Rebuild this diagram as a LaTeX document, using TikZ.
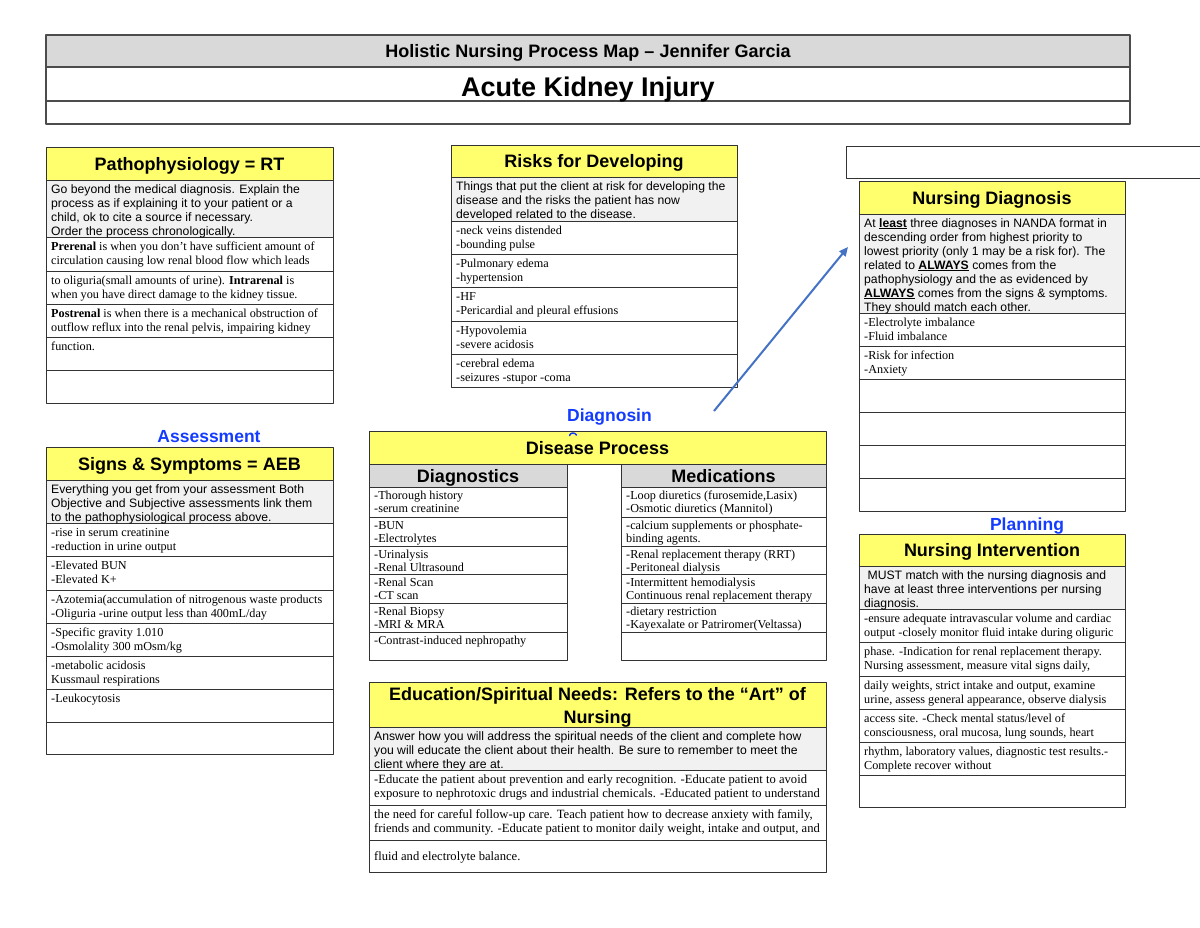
\documentclass[tikz,border=0pt]{standalone}
\usepackage{fontspec}
\setmainfont{Liberation Serif}
\setsansfont{Liberation Sans}
\usetikzlibrary{arrows.meta}
\definecolor{hdryellow}{RGB}{255,255,110}
\definecolor{notegray}{RGB}{241,241,241}
\definecolor{bargray}{RGB}{217,217,217}
\definecolor{labelblue}{RGB}{20,60,255}
\definecolor{arrowblue}{RGB}{68,114,196}
\begin{document}
\begin{tikzpicture}[x=1pt,y=-1pt,line join=round,
	cell/.style={draw=black!80,line width=1pt},
	hdr/.style={font=\sffamily\bfseries\fontsize{18}{23}\selectfont,inner sep=0pt,anchor=base},
	note/.style={font=\sffamily\fontsize{12.2}{14}\selectfont,align=left,anchor=north west,inner sep=0pt},
	entry/.style={font=\fontsize{12.2}{14}\selectfont,align=left,anchor=north west,inner sep=0pt},
	tightentry/.style={entry,font=\fontsize{12.2}{13}\selectfont},
	wideentry/.style={entry,font=\fontsize{12.6}{14}\selectfont},
	phase/.style={font=\sffamily\bfseries\fontsize{17.5}{20}\selectfont,text=labelblue,inner sep=0pt,anchor=base}]
	\useasboundingbox[fill=white] (0,0) rectangle (1200,927);
	
	% Khung tiêu đề
	\fill[bargray] (46,35) rectangle (1130,67);
	\draw[cell,line width=1.4pt,draw=black!70] (46,35) rectangle (1130,124);
	\draw[cell,line width=1.4pt,draw=black!70] (46,67) -- (1130,67);
	\draw[cell,line width=1.4pt,draw=black!70] (46,101) -- (1130,101);
	\node[hdr] (maptitle) at (588,57.5) {Holistic Nursing Process Map -- Jennifer Garcia};
	\node[hdr,font=\sffamily\bfseries\fontsize{27}{30}\selectfont] (disease) at (588,96.5) {Acute Kidney Injury};
	
	% Pathophysiology
	\fill[hdryellow] (46,147) rectangle (333,180);
	\fill[notegray] (46,180) rectangle (333,237);
	\draw[cell] (46,147) rectangle (333,403);
	\foreach \y in {180,237,271,304,337,370} \draw[cell] (46,\y) -- (333,\y);
	\node[hdr] (patho) at (189.5,170) {Pathophysiology = RT};
	\node[note] (pathonote) at (51,184) {Go beyond the medical diagnosis. Explain the\\process as if explaining it to your patient or a\\child, ok to cite a source if necessary.\\Order the process chronologically.};
	\node[entry] (prerenal) at (51,242) {\textbf{Prerenal} is when you don’t have sufficient amount of\\circulation causing low renal blood flow which leads};
	\node[entry] (intrarenal) at (51,276) {to oliguria(small amounts of urine). \textbf{Intrarenal} is\\when you have direct damage to the kidney tissue.};
	\node[entry] (postrenal) at (51,309) {\textbf{Postrenal} is when there is a mechanical obstruction of\\outflow reflux into the renal pelvis, impairing kidney};
	\node[entry] (function) at (51,342) {function.};
	
	% Risks for Developing
	\fill[hdryellow] (451,145) rectangle (737,177);
	\fill[notegray] (451,177) rectangle (737,221);
	\draw[cell] (451,145) rectangle (737,387);
	\foreach \y in {177,221,254,287,321,354} \draw[cell] (451,\y) -- (737,\y);
	\node[hdr] (risks) at (594,167.5) {Risks for Developing};
	\node[note] (risksnote) at (456,181) {Things that put the client at risk for developing the\\disease and the risks the patient has now\\developed related to the disease.};
	\node[entry] (neck) at (456,226) {-neck veins distended\\-bounding pulse};
	\node[entry] (pulmonary) at (456,259) {-Pulmonary edema\\-hypertension};
	\node[entry] (hf) at (456,292) {-HF\\-Pericardial and pleural effusions};
	\node[entry] (hypovolemia) at (456,326) {-Hypovolemia\\-severe acidosis};
	\node[entry] (cerebral) at (456,359) {-cerebral edema\\-seizures -stupor -coma};
	
	% Ô trống góc phải
	\draw[cell] (846,146) rectangle (1203,178);
	
	% Nursing Diagnosis
	\fill[hdryellow] (859,181) rectangle (1125,214);
	\fill[notegray] (859,214) rectangle (1125,313);
	\draw[cell] (859,181) rectangle (1125,511);
	\foreach \y in {214,313,346,379,412,445,478} \draw[cell] (859,\y) -- (1125,\y);
	\node[hdr] (nursingdx) at (992,204) {Nursing Diagnosis};
	\node[note] (dxnote) at (864,218) {At \underline{\textbf{least}} three diagnoses in NANDA format in\\descending order from highest priority to\\lowest priority (only 1 may be a risk for). The\\related to \underline{\textbf{ALWAYS}} comes from the\\pathophysiology and the as evidenced by\\\underline{\textbf{ALWAYS}} comes from the signs \& symptoms.\\They should match each other.};
	\node[entry] (electrolyte) at (864,318) {-Electrolyte imbalance\\-Fluid imbalance};
	\node[entry] (infection) at (864,351) {-Risk for infection\\-Anxiety};
	
	% Assessment
	\node[phase] (assessment) at (209,442.3) {Assessment};
	\fill[hdryellow] (46,447) rectangle (333,480);
	\fill[notegray] (46,480) rectangle (333,523);
	\draw[cell] (46,447) rectangle (333,754);
	\foreach \y in {480,523,556,590,623,656,689,722} \draw[cell] (46,\y) -- (333,\y);
	\node[hdr] (signs) at (189.5,470) {Signs \& Symptoms = AEB};
	\node[note] (signsnote) at (51,484) {Everything you get from your assessment Both\\Objective and Subjective assessments link them\\to the pathophysiological process above.};
	\node[entry] (creatinine) at (51,528) {-rise in serum creatinine\\-reduction in urine output};
	\node[entry] (bun) at (51,561) {-Elevated BUN\\-Elevated K+};
	\node[entry] (azotemia) at (51,595) {-Azotemia(accumulation of nitrogenous waste products\\-Oliguria -urine output less than 400mL/day};
	\node[entry] (gravity) at (51,628) {-Specific gravity 1.010\\-Osmolality 300 mOsm/kg};
	\node[entry] (acidosis) at (51,661) {-metabolic acidosis\\Kussmaul respirations};
	\node[entry] (leuko) at (51,694) {-Leukocytosis};
	
	% Disease Process
	\node[phase,anchor=base west] (diagnosing) at (567,421.3) {Diagnosin};
	\fill[hdryellow] (369,431) rectangle (826,464);
	% phần chữ bị che
	\draw[labelblue,line width=1.5pt,line cap=round] (569.5,435.5) .. controls (570.5,432.5) and (574.5,432) .. (576.5,435);
	\draw[cell] (369,431) rectangle (826,464);
	\node[hdr] (process) at (597.5,454) {Disease Process};
	% Diagnostics
	\fill[bargray] (369,464) rectangle (567,487);
	\draw[cell] (369,464) rectangle (567,660);
	\foreach \y in {487,517,546,574,603,632} \draw[cell] (369,\y) -- (567,\y);
	\node[hdr] (diagnostics) at (468,482) {Diagnostics};
	\node[tightentry] (history) at (374,491) {-Thorough history\\-serum creatinine};
	\node[tightentry] (labs) at (374,521) {-BUN\\-Electrolytes};
	\node[tightentry] (urinalysis) at (374,550) {-Urinalysis\\-Renal Ultrasound};
	\node[tightentry] (scan) at (374,578) {-Renal Scan\\-CT scan};
	\node[tightentry] (biopsy) at (374,607) {-Renal Biopsy\\-MRI \& MRA};
	\node[tightentry] (contrast) at (374,636) {-Contrast-induced nephropathy};
	% Medications
	\fill[bargray] (621,464) rectangle (826,487);
	\draw[cell] (621,464) rectangle (826,660);
	\foreach \y in {487,517,546,574,603,632} \draw[cell] (621,\y) -- (826,\y);
	\node[hdr] (medications) at (723.5,482) {Medications};
	\node[tightentry] (diuretics) at (626,491) {-Loop diuretics (furosemide,Lasix)\\-Osmotic diuretics (Mannitol)};
	\node[tightentry] (calcium) at (626,521) {-calcium supplements or phosphate-\\binding agents.};
	\node[tightentry] (rrt) at (626,550) {-Renal replacement therapy (RRT)\\-Peritoneal dialysis};
	\node[tightentry] (hemo) at (626,578) {-Intermittent hemodialysis\\Continuous renal replacement therapy};
	\node[tightentry] (diet) at (626,607) {-dietary restriction\\-Kayexalate or Patriromer(Veltassa)};
	
	% Planning
	\node[phase] (planning) at (1027,530.3) {Planning};
	\fill[hdryellow] (859,534) rectangle (1125,566);
	\fill[notegray] (859,566) rectangle (1125,609);
	\draw[cell] (859,534) rectangle (1125,807);
	\foreach \y in {566,609,642,676,709,742,775} \draw[cell] (859,\y) -- (1125,\y);
	\node[hdr] (intervention) at (992,556.5) {Nursing Intervention};
	\node[note] (intervnote) at (864,570) {\ MUST match with the nursing diagnosis and\\have at least three interventions per nursing\\diagnosis.};
	\node[entry] (volume) at (864,614) {-ensure adequate intravascular volume and cardiac\\output -closely monitor fluid intake during oliguric};
	\node[entry] (phase) at (864,647) {phase. -Indication for renal replacement therapy.\\Nursing assessment, measure vital signs daily,};
	\node[entry] (weights) at (864,681) {daily weights, strict intake and output, examine\\urine, assess general appearance, observe dialysis};
	\node[entry] (access) at (864,714) {access site. -Check mental status/level of\\consciousness, oral mucosa, lung sounds, heart};
	\node[entry] (rhythm) at (864,747) {rhythm, laboratory values, diagnostic test results.-\\Complete recover without};
	
	% Education/Spiritual Needs
	\fill[hdryellow] (369,682) rectangle (826,727);
	\fill[notegray] (369,727) rectangle (826,770);
	\draw[cell] (369,682) rectangle (826,872);
	\foreach \y in {727,770,805,840} \draw[cell] (369,\y) -- (826,\y);
	\node[hdr] (education) at (597.5,700.5) {Education/Spiritual Needs: Refers to the “Art” of};
	\node[hdr] (educationend) at (597.5,723.5) {Nursing};
	\node[note] (edunote) at (374,731) {Answer how you will address the spiritual needs of the client and complete how\\you will educate the client about their health. Be sure to remember to meet the\\client where they are at.};
	\node[wideentry] (prevention) at (374,775) {-Educate the patient about prevention and early recognition. -Educate patient to avoid\\exposure to nephrotoxic drugs and industrial chemicals. -Educated patient to understand};
	\node[wideentry] (followup) at (374,809) {the need for careful follow-up care. Teach patient how to decrease anxiety with family,\\friends and community. -Educate patient to monitor daily weight, intake and output, and};
	\node[wideentry] (balance) at (374,851) {fluid and electrolyte balance.};
	
	% Mũi tên chẩn đoán
	\coordinate (arrowfoot) at (714,411);
	\coordinate (arrowtip) at (848,247);
	\draw[arrowblue,line width=2pt,-{Triangle[length=9pt,width=8pt]}] (arrowfoot) -- (arrowtip);
\end{tikzpicture}
\end{document}
